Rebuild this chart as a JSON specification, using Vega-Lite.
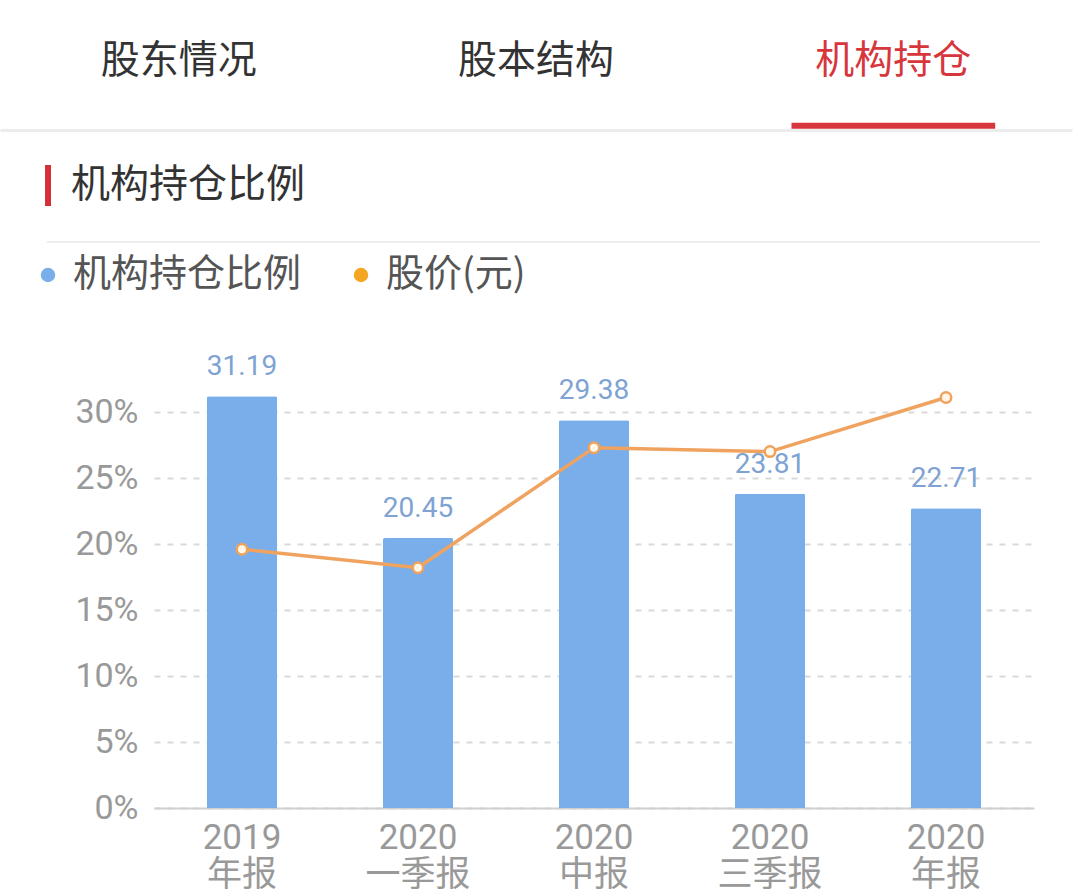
{
  "$schema": "https://vega.github.io/schema/vega-lite/v6.json",
  "background": "white",
  "padding": 0,
  "spacing": 0,
  "columns": 1,
  "config": {
    "view": {"stroke": null},
    "font": "Roboto, Noto Sans CJK SC"
  },
  "concat": [
    {
      "width": 1072,
      "height": 130,
      "data": {"values": [{"tab": "股东情况"}, {"tab": "股本结构"}, {"tab": "机构持仓"}]},
      "encoding": {
        "x": {
          "field": "tab", "type": "nominal", "sort": null,
          "scale": {"paddingInner": 0, "paddingOuter": 0},
          "axis": {"title": null, "labels": false, "ticks": false, "grid": false, "domainColor": "#ececec", "domainWidth": 3}
        }
      },
      "layer": [
        {
          "mark": {"type": "text", "font": "Noto Sans CJK SC", "fontSize": 39, "baseline": "middle"},
          "encoding": {
            "y": {"datum": 0.53, "type": "quantitative", "scale": {"domain": [0, 1]}, "axis": null},
            "text": {"field": "tab"},
            "color": {"condition": {"test": "datum.tab === '机构持仓'", "value": "#d8363d"}, "value": "#333333"}
          }
        },
        {
          "transform": [{"filter": "datum.tab === '机构持仓'"}],
          "mark": {"type": "bar", "color": "#d8363d", "width": {"band": 0.57}},
          "encoding": {
            "y": {"datum": 0.01, "type": "quantitative", "axis": null},
            "y2": {"datum": 0.055}
          }
        }
      ]
    },
    {
      "width": 1080,
      "height": 216,
      "data": {"values": [{"title": "机构持仓比例"}]},
      "layer": [
        {
          "mark": {"type": "rect", "color": "#d32f35"},
          "encoding": {
            "x": {"datum": 0.0417, "type": "quantitative", "scale": {"domain": [0, 1]}, "axis": null},
            "x2": {"datum": 0.0472},
            "y": {"datum": 0.838, "type": "quantitative", "scale": {"domain": [0, 1]}, "axis": null},
            "y2": {"datum": 0.648}
          }
        },
        {
          "mark": {"type": "text", "align": "left", "baseline": "middle", "font": "Noto Sans CJK SC", "fontSize": 39, "color": "#333333"},
          "encoding": {
            "x": {"datum": 0.0657, "type": "quantitative", "axis": null},
            "y": {"datum": 0.745, "type": "quantitative", "axis": null},
            "text": {"field": "title"}
          }
        },
        {
          "mark": {"type": "rule", "color": "#eeeeee", "strokeWidth": 2},
          "encoding": {
            "x": {"datum": 0.0435, "type": "quantitative", "axis": null},
            "x2": {"datum": 0.963},
            "y": {"datum": 0.481, "type": "quantitative", "axis": null}
          }
        }
      ]
    },
    {
      "spacing": 0,
      "hconcat": [
        {
          "width": 1,
          "height": 1,
          "view": {"fill": "#ffffff", "stroke": null},
          "data": {"values": []},
          "mark": "point"
        },
        {
          "width": 880,
          "height": 462,
          "data": {
            "values": [
              {"period": "2019 年报", "ratio": 31.19, "price": 19.6},
              {"period": "2020 一季报", "ratio": 20.45, "price": 18.2},
              {"period": "2020 中报", "ratio": 29.38, "price": 27.3},
              {"period": "2020 三季报", "ratio": 23.81, "price": 27.0},
              {"period": "2020 年报", "ratio": 22.71, "price": 31.1}
            ]
          },
          "encoding": {
            "x": {
              "field": "period", "type": "nominal", "sort": null,
              "scale": {"paddingInner": 0.6, "paddingOuter": 0.3},
              "axis": {
                "title": null, "labelAngle": 0, "ticks": false,
                "labelExpr": "split(datum.label, ' ')",
                "labelFontSize": 35, "labelLineHeight": 37, "labelColor": "#999999", "labelPadding": 12,
                "domainColor": "#d0d0d0", "domainWidth": 2
              }
            }
          },
          "layer": [
            {
              "encoding": {
                "y": {
                  "field": "ratio", "type": "quantitative",
                  "scale": {"domain": [0, 35], "nice": false},
                  "axis": {
                    "title": null, "values": [0, 5, 10, 15, 20, 25, 30],
                    "labelExpr": "datum.value + '%'",
                    "labelFontSize": 34, "labelColor": "#999999", "labelPadding": 16,
                    "ticks": false, "domain": false, "minExtent": 153,
                    "grid": true, "gridDash": [6, 7], "gridColor": "#d9d9d9", "gridWidth": 2
                  }
                }
              },
              "layer": [
                {
                  "mark": {"type": "bar", "cornerRadiusTopLeft": 2, "cornerRadiusTopRight": 2},
                  "encoding": {
                    "color": {
                      "datum": "机构持仓比例",
                      "scale": {"domain": ["机构持仓比例", "股价(元)"], "range": ["#7aaeeb", "#f5a524"]},
                      "legend": {
                        "orient": "none", "legendX": 29, "legendY": 256, "direction": "horizontal",
                        "title": null, "padding": 0,
                        "symbolType": "circle", "symbolSize": 210, "symbolStrokeWidth": 0, "symbolOpacity": 1,
                        "labelFont": "Noto Sans CJK SC", "labelFontSize": 38, "labelColor": "#555555",
                        "labelOffset": 6, "columnPadding": 40, "labelLimit": 500
                      }
                    }
                  }
                },
                {
                  "mark": {"type": "text", "baseline": "alphabetic", "dy": -21, "fontSize": 28, "color": "#7ea3d3"},
                  "encoding": {"text": {"field": "ratio", "type": "quantitative", "format": ".2f"}}
                }
              ]
            },
            {
              "encoding": {
                "y": {"field": "price", "type": "quantitative", "scale": {"domain": [0, 35], "nice": false}, "axis": null}
              },
              "layer": [
                {"mark": {"type": "line", "color": "#efa35f", "strokeWidth": 3.5}},
                {"mark": {"type": "point", "filled": true, "fill": "#fff6e8", "stroke": "#eea25c", "strokeWidth": 2.5, "size": 110, "opacity": 1}}
              ]
            }
          ],
          "resolve": {"scale": {"y": "independent"}}
        }
      ]
    }
  ]
}
